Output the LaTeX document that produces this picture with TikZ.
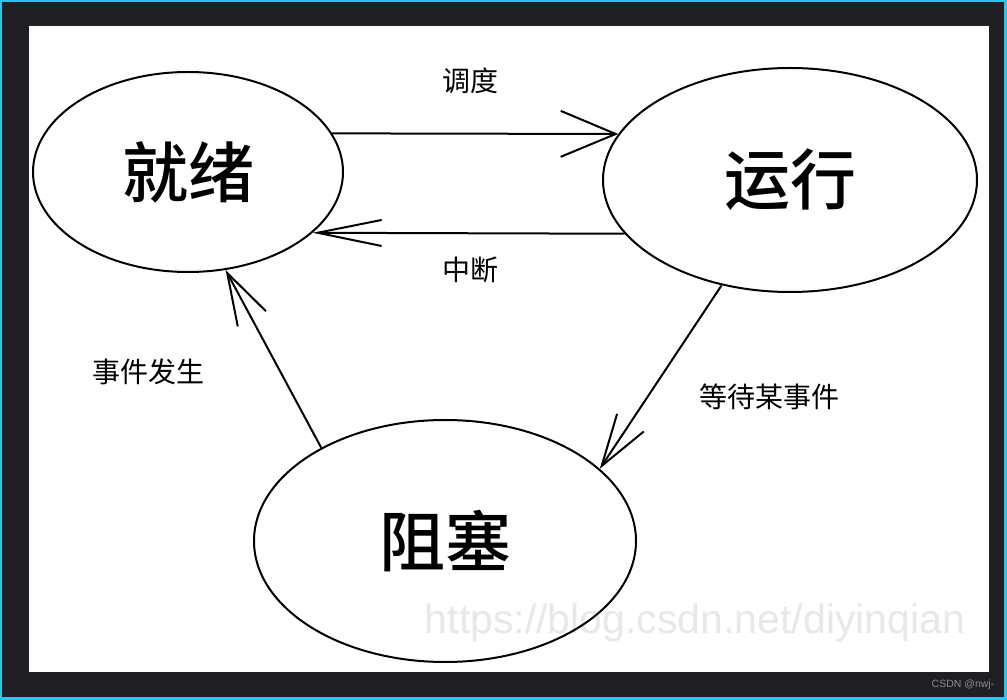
\documentclass[tikz,border=0pt]{standalone}
\usepackage{fontspec}
\newfontfamily\cjk{Noto Sans CJK SC}
\newfontfamily\cjkm{Noto Sans CJK SC}[UprightFont={* Medium}]
\setmainfont{Liberation Sans}
\usetikzlibrary{shapes.geometric,arrows.meta}
\definecolor{framebg}{HTML}{202024}
\definecolor{framecyan}{HTML}{2EC4EE}
\tikzset{
  state/.style={draw, ellipse, line width=2pt, inner sep=0pt,
    font=\cjkm\fontsize{66}{70}\selectfont},
  conn/.style={line width=2pt, -{Straight Barb[length=52pt,width=32pt,line width=2pt]}},
  lbl/.style={font=\cjk\fontsize{28}{30}\selectfont, inner sep=0pt},
}
\begin{document}
\begin{tikzpicture}[x=1pt,y=-1pt]
\useasboundingbox (0,0) rectangle (1007,700);
\fill[framecyan] (0,0) rectangle (1007,700);
\fill[framebg] (2,2) rectangle (1004,697);
\fill[white] (29,26) rectangle (989,672);
\node[font=\fontsize{41}{44}\selectfont, text=black!9, inner sep=0pt] (wm) at (695,623) {https://blog.csdn.net/diyinqian};
\node[font=\fontsize{10.5}{11}\selectfont, text=black!45, inner sep=0pt] (csdn) at (963,685) {CSDN @nwj-};

\node[state, minimum width=310pt, minimum height=200pt] (ready) at (188,172) {就绪};
\node[state, minimum width=374pt, minimum height=224pt] (run) at (790,180) {运行};
\node[state, minimum width=382pt, minimum height=242pt] (block) at (445,541) {阻塞};

\draw[conn, -{Straight Barb[length=55pt,width=46pt,line width=2pt]}] (ready.15) -- (run.165);
\draw[conn, -{Straight Barb[length=64pt,width=26pt,line width=2pt]}] (run.198) -- (ready.-26);
\draw[conn] (block.143) -- (ready.-69);
\draw[conn] (run.237) -- (block.25);

\node[lbl] (l1) at (470,81) {调度};
\node[lbl] (l2) at (470,270) {中断};
\node[lbl] (l3) at (148,372) {事件发生};
\node[lbl] (l4) at (769,397) {等待某事件};
\end{tikzpicture}
\end{document}
